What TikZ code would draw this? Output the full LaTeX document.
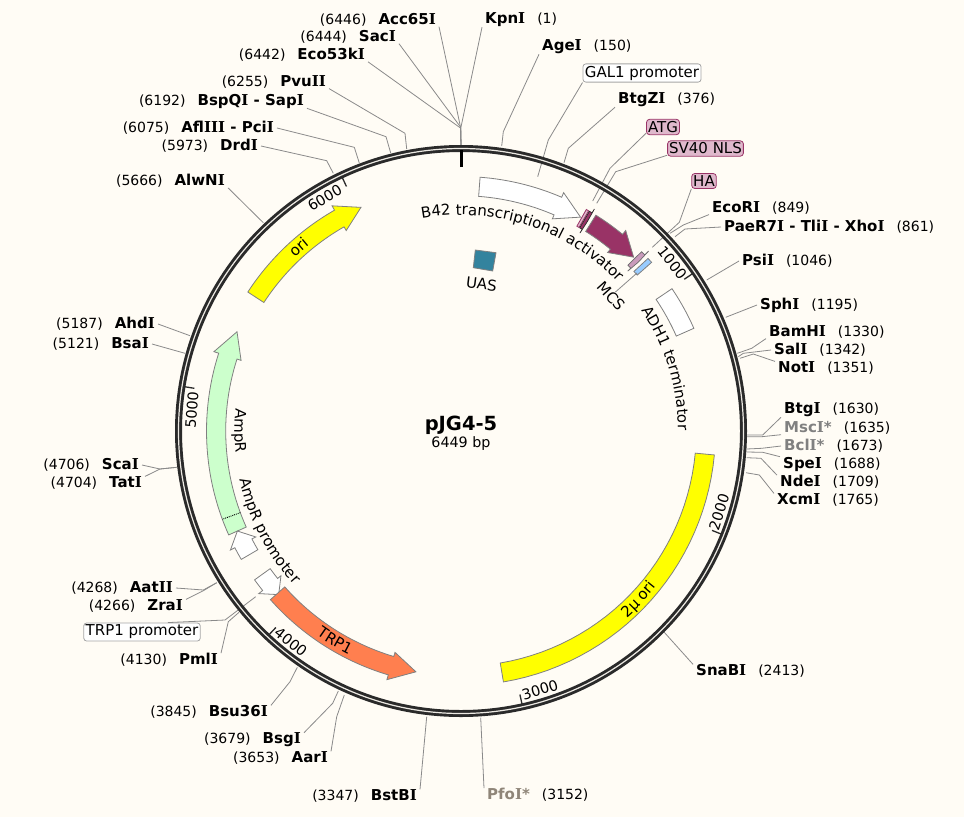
\documentclass[tikz,border=0pt]{standalone}
\usepackage{fontspec}
\setmainfont{DejaVu Sans}
\newfontfamily\dvserif{DejaVu Serif}
\usetikzlibrary{decorations.text}
\definecolor{bgc}{HTML}{FFFCF5}
\definecolor{ringc}{HTML}{2A2A2A}
\definecolor{leadc}{HTML}{8A8A8A}
\definecolor{edgec}{HTML}{808080}
\definecolor{plum}{HTML}{993366}
\definecolor{pinkbox}{HTML}{DFB8CC}
\definecolor{hapink}{HTML}{C99BBB}
\definecolor{skyb}{HTML}{99CCFF}
\definecolor{coral}{HTML}{FF7F4F}
\definecolor{mint}{HTML}{CCFFCC}
\definecolor{teal2}{HTML}{33839E}
\definecolor{greyname}{HTML}{808080}
\definecolor{pfoc}{HTML}{8F8578}
\definecolor{pureyel}{HTML}{FFFF00}
\tikzset{
  x=1pt,y=-1pt,
  leader/.style={draw=leadc,line width=0.8pt,line join=round},
  feat/.style={draw=edgec,line width=0.8pt,line join=miter},
  sitelab/.style={inner xsep=3pt,inner ysep=0pt,font=\fontsize{14}{16}\selectfont},
  tagwhite/.style={draw=edgec!70,fill=white,rounded corners=3pt,inner xsep=2pt,inner ysep=2pt,line width=0.8pt,font=\fontsize{15}{16}\selectfont},
  tagpink/.style={draw=plum,fill=pinkbox,rounded corners=3pt,inner xsep=1.5pt,inner ysep=2pt,line width=0.8pt,font=\fontsize{15}{16}\selectfont},
  txt/.style={font=\fontsize{15}{16}\selectfont,inner sep=0pt},
  ticktxt/.style={font=\fontsize{14.5}{16}\selectfont,inner sep=0pt},
  tickmark/.style={draw=ringc,line width=1.3pt},
}
\newcommand{\Ib}{{\dvserif I}}
\newcommand{\nm}[1]{{\fontsize{15}{16}\selectfont\bfseries #1}}
\newcommand{\gy}[1]{{\fontsize{15}{16}\selectfont\bfseries\color{greyname}#1}}
\newcommand{\gp}{\hspace{12pt}}
% feature arrow: style, start, head base, tip angle (all clockwise from top)
\newcommand{\arrowfeat}[4]{\draw[feat,#1] plot[domain=#2:#3,samples=30] ({\x-90}:254.5) -- ({#3-90}:259.5) -- ({#4-90}:245) -- ({#3-90}:231) -- plot[domain=#3:#2,samples=30] ({\x-90}:235.3) -- cycle;}
\newcommand{\bandfeat}[3]{\draw[feat,#1] plot[domain=#2:#3,samples=30] ({\x-90}:254.5) -- plot[domain=#3:#2,samples=30] ({\x-90}:235.3) -- cycle;}
\newcommand{\arctext}[4]{\path[decorate,decoration={text along path,text align=center,text={|\fontsize{15}{16}\selectfont|#1}}] plot[domain=#2:#3,samples=90] ({\x-90}:#4);}
% site label: id, x of text edge, y, text, start anchor, elbow x,y, end x,y
\newcommand{\siteL}[9]{\node[sitelab,anchor=east] (#1) at (#2+3,#3+1) {#4};\coordinate (#1k) at (#6,#7);\coordinate (#1e) at (#8,#9);\draw[leader] (#1.#5) -- (#1k) -- (#1e);}
\newcommand{\siteR}[9]{\node[sitelab,anchor=west] (#1) at (#2-3,#3+1) {#4};\coordinate (#1k) at (#6,#7);\coordinate (#1e) at (#8,#9);\draw[leader] (#1.#5) -- (#1k) -- (#1e);}
\newcommand{\tagged}[9]{\node[#4] (#1) at (#2,#3) {#5};\coordinate (#1k) at (#7,#8);\coordinate (#1e) at #9;\draw[leader] (#1.#6) -- (#1k) -- (#1e);}
\begin{document}
\begin{tikzpicture}
\useasboundingbox (0,0) rectangle (964,817);
\fill[bgc] (0,0) rectangle (964,817);
% leaders and labels
\siteL{acc}{436}{19}{(6446)\gp\nm{Acc65\Ib}}{south east}{460.5}{127}{461}{145}
\siteL{sac}{396}{36}{(6444)\gp\nm{Sac\Ib}}{south east}{460.5}{127}{461}{145}
\siteL{eco}{365}{54}{(6442)\gp\nm{Eco53k\Ib}}{south east}{460.5}{128}{461}{145}
\siteR{kpn}{485}{19}{\nm{Kpn\Ib}\gp(1)}{south west}{461}{127}{461}{145}
\siteL{pvu}{326}{81}{(6255)\gp\nm{Pvu\Ib\Ib}}{south east}{405}{133.3}{406.7}{149}
\siteL{bsp}{304}{100}{(6192)\gp\nm{BspQ\Ib{} - Sap\Ib}}{south east}{386}{136.7}{390.7}{153}
\siteL{afl}{274}{127}{(6075)\gp\nm{Afl\Ib\Ib\Ib{} - Pci\Ib}}{east}{354.3}{147.3}{359.3}{163}
\siteL{drd}{258}{145}{(5973)\gp\nm{Drd\Ib}}{east}{326.7}{160.7}{333.3}{173.3}
\siteL{alw}{225}{180}{(5666)\gp\nm{AlwN\Ib}}{south east}{263.3}{222.7}{263.3}{222.7}
\siteL{ahd}{155}{323}{(5187)\gp\nm{Ahd\Ib}}{east}{190}{335.7}{190}{335.7}
\siteL{bsa}{149}{343}{(5121)\gp\nm{Bsa\Ib}}{east}{185}{353.3}{185}{353.3}
\siteL{sca}{139}{464}{(4706)\gp\nm{Sca\Ib}}{east}{160}{469}{176.7}{467.3}
\siteL{tat}{142}{482}{(4704)\gp\nm{Tat\Ib}}{north east}{160}{469}{176.7}{467.3}
\siteL{aat}{173}{587}{(4268)\gp\nm{Aat\Ib\Ib}}{east}{203.3}{590}{216.7}{582.7}
\siteL{zra}{183}{605}{(4266)\gp\nm{Zra\Ib}}{north east}{203.3}{590.7}{216.7}{582.7}
\siteL{pml}{218}{659}{(4130)\gp\nm{Pml\Ib}}{north east}{228.3}{621.7}{239}{612.3}
\siteL{bsu}{268}{711}{(3845)\gp\nm{Bsu36\Ib}}{north east}{290}{681.7}{297.3}{667.3}
\siteL{bsg}{301}{739}{(3679)\gp\nm{Bsg\Ib}}{north east}{332.7}{703.3}{338.3}{691}
\siteL{aar}{328}{757}{(3653)\gp\nm{Aar\Ib}}{north east}{336.7}{716.7}{344.3}{695}
\siteL{bst}{417}{795}{(3347)\gp\nm{BstB\Ib}}{north east}{426.7}{716.7}{426.7}{716.7}
\siteR{pfo}{487}{794}{{\fontsize{15}{16}\selectfont\bfseries\color{pfoc}Pfo\Ib*}\gp(3152)}{north west}{480.7}{717.7}{480.7}{717.7}
\siteR{sna}{696}{670}{\nm{SnaB\Ib}\gp(2413)}{north west}{664}{632}{664}{632}
\siteR{xcm}{777}{499}{\nm{Xcm\Ib}\gp(1765)}{north west}{759.3}{475}{746}{472.7}
\siteR{nde}{780}{481}{\nm{Nde\Ib}\gp(1709)}{north west}{761}{458.3}{746.7}{457.7}
\siteR{spe}{783}{463}{\nm{Spe\Ib}\gp(1688)}{north west}{762.7}{452.3}{746.7}{452}
\siteR{bcl}{784}{445}{\gy{Bcl\Ib*}\gp(1673)}{west}{761.7}{448.3}{746.7}{449}
\siteR{msc}{784}{427}{\gy{Msc\Ib*}\gp(1635)}{south west}{761.7}{436.7}{746.7}{436.7}
\siteR{btg}{784}{409}{\nm{Btg\Ib}\gp(1630)}{south west}{762.7}{435}{746.7}{435}
\siteR{not}{778}{367}{\nm{Not\Ib}\gp(1351)}{north west}{753.3}{354}{740}{358.3}
\siteR{sal}{774}{349}{\nm{Sal\Ib}\gp(1342)}{west}{743.3}{353.3}{738.3}{356.7}
\siteR{bam}{769}{331}{\nm{BamH\Ib}\gp(1330)}{south west}{751.7}{348.3}{737.3}{353.3}
\siteR{sph}{760}{304}{\nm{Sph\Ib}\gp(1195)}{west}{725.7}{317.3}{725.7}{317.3}
\siteR{psi}{742}{260}{\nm{Psi\Ib}\gp(1046)}{west}{706.7}{280}{706.7}{280}
\siteR{pae}{724}{226}{\nm{PaeR7\Ib{} - Tli\Ib{} - Xho\Ib}\gp(861)}{west}{685}{229}{675}{236.7}
\siteR{ecor}{712}{207}{\nm{EcoR\Ib}\gp(849)}{south west}{683.3}{225}{670}{233.3}
\siteR{btgz}{618}{99}{\nm{BtgZ\Ib}\gp(376)}{south west}{568.3}{148.3}{564}{162.7}
\siteR{age}{542}{46}{\nm{Age\Ib}\gp(150)}{south west}{503.3}{131.7}{501.7}{146}
\tagged{trpp}{142}{632}{tagwhite}{TRP1 promoter}{20}{225}{620}{(255.7,596.7)}
\tagged{gal}{642}{73}{tagwhite}{GAL1 promoter}{south west}{548.3}{140}{(537.7,176.7)}
\tagged{atg}{663}{127}{tagpink}{ATG}{200}{610}{168.3}{(592.7,201)}
\tagged{sv}{705.5}{148.5}{tagpink}{SV40 NLS}{190}{615.7}{171.7}{(596.7,203.3)}
\tagged{hatag}{704}{181}{tagpink}{HA}{south west}{679.3}{222.3}{(652.3,247.3)}
\begin{scope}[shift={(461,431)}]
% ring
\draw[ringc,line width=7pt] (0,0) circle[radius=282.5];
\draw[bgc!85!gray,line width=1.2pt] (0,0) circle[radius=282.5];
\draw[black,line width=3pt] (-90:264) -- (-90:281);
% ticks
\foreach \t in {55.8,111.6,167.4,223.3,279.1,334.9} {\draw[tickmark] ({\t-90}:270) -- ({\t-90}:280);}
\node[ticktxt,rotate=-51.5] (t1) at (-38.5:270) {1000};
\node[ticktxt,rotate=72.6] (t2) at (17.4:270.5) {2000};
\node[ticktxt,rotate=17] (t3) at (73:270.5) {3000};
\node[ticktxt,rotate=-38.9] (t4) at (128.9:271) {4000};
\node[ticktxt,rotate=85.5] (t5) at (184.5:270) {5000};
\node[ticktxt,rotate=30.3] (t6) at (239.7:270) {6000};
% features
\arrowfeat{fill=white}{4.3}{23.3}{29.2}
\arrowfeat{fill=plum}{32.0}{39.4}{44.8}
\arrowfeat{fill=pureyel}{303.1}{330.2}{335.9}
\arrowfeat{fill=mint}{245.9}{287.8}{293.9}
\arrowfeat{fill=white}{239.7}{242.7}{245.9}
\arrowfeat{fill=white}{234.2}{231.2}{228.1}
\arrowfeat{fill=coral}{228.5}{196.6}{190.6}
\bandfeat{fill=pureyel}{95.4}{170.4}
\bandfeat{fill=white}{56}{66.2}
\draw[densely dotted,black,line width=0.9pt] (159.7:235.3) -- (159.7:254.5);
\bandfeat{fill=pinkbox,draw=plum}{29.5}{30.1}
\draw[draw=ringc,fill=plum,line width=0.7pt] plot[domain=30.3:31,samples=3] ({\x-90}:254.5) -- ({31-90}:259) -- ({31.1-90}:245) -- ({31-90}:231) -- plot[domain=31:30.3,samples=3] ({\x-90}:235.3) -- cycle;
\draw[draw=ringc!70,fill=hapink,line width=0.7pt] plot[domain=45.2:46.2,samples=3] ({\x-90}:254.5) -- ({46.2-90}:260) -- ({46.4-90}:245) -- ({46.2-90}:231) -- plot[domain=46.2:45.2,samples=3] ({\x-90}:235.3) -- cycle;
\bandfeat{fill=skyb}{47.3}{48.5}
% inner labels
\arctext{B42 transcriptional activator}{-12}{48}{216}
\arctext{ADH1 terminator}{55}{91}{217}
\arctext{AmpR}{278}{262}{226.5}
\arctext{AmpR promoter}{260}{225}{227}
\arctext{TRP1}{222}{200}{250}
\arctext{2µ ori}{146}{121}{250}
\arctext{ori}{310}{327}{240}
\node[txt,font=\fontsize{19.5}{20}\selectfont\bfseries] (title) at (0,-6) {pJG4-5};
\node[txt,font=\fontsize{14.3}{16}\selectfont] (bp) at (0,13) {6449 bp};
\end{scope}
\fill[teal2,draw=edgec,line width=0.8pt] (475.3,250) -- (496,252.7) -- (492.7,271) -- (473.3,267.7) -- cycle;
\node[txt,rotate=-7] (uas) at (481.5,284) {UAS};
\node[txt,rotate=-48] (mcs) at (611,296) {MCS};
\coordinate (mcsend) at (637,273);
\draw[leader] (mcs.north) -- (mcsend);
\end{tikzpicture}
\end{document}
